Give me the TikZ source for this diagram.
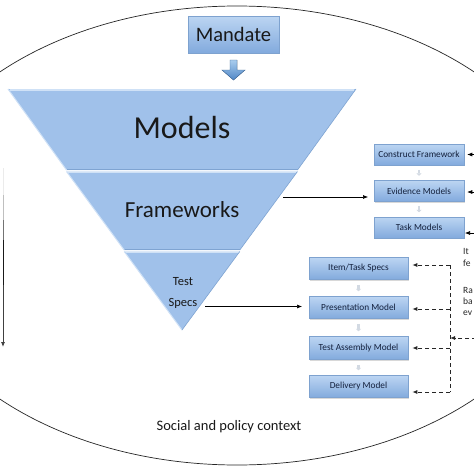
\documentclass[tikz,border=0pt]{standalone}
\usepackage{fontspec}
\setmainfont{Carlito}
\usetikzlibrary{arrows.meta,shadows}
\definecolor{bandfill}{HTML}{A0C1EA}
\definecolor{bandlight}{HTML}{CFE1F6}
\definecolor{banddark}{HTML}{7FA4D2}
\definecolor{boxtop}{HTML}{BCD5F2}
\definecolor{boxbot}{HTML}{82AADD}
\definecolor{boxedge}{HTML}{7EA2CF}
\definecolor{navy}{HTML}{14213D}
\definecolor{arrtop}{HTML}{A9CDEE}
\definecolor{arrbot}{HTML}{4F86C6}
\definecolor{faint}{HTML}{D3DAE3}
\tikzset{
  smallbox/.style={rectangle, inner sep=0pt, top color=boxtop, bottom color=boxbot,
    draw=boxedge, line width=0.5pt, text=navy, font=\fontsize{9.3}{10}\selectfont,
    drop shadow={shadow xshift=1pt, shadow yshift=-1.2pt, fill=gray!60, opacity=0.5}},
  upbox/.style={smallbox, minimum width=90pt, minimum height=21pt},
  lowbox/.style={smallbox, minimum width=99pt, minimum height=22pt},
  band/.style={fill=bandfill},
  bigtext/.style={text=black!90},
  conn/.style={-{Latex[length=5pt,width=4pt]}, line width=0.6pt, black},
  dconn/.style={-{Latex[length=5pt,width=4pt]}, line width=0.9pt, black!85, dash pattern=on 4pt off 3pt},
  dline/.style={line width=0.9pt, black!85, dash pattern=on 4pt off 3pt},
  tiny/.style={-{Triangle[length=2.5pt,width=5pt]}, line width=2.2pt, faint},
  edgetext/.style={anchor=west, inner sep=0pt, font=\fontsize{9.5}{10}\selectfont, text=black!85}
}
\begin{document}
\begin{tikzpicture}[x=1pt,y=-1pt]
\useasboundingbox (0,0) rectangle (474,474);
\fill[white] (0,0) rectangle (474,474);
% context ellipse
\draw[line width=0.7pt, black!85] (237,235.5) ellipse [x radius=338, y radius=229.5];
% inverted triangle bands
\fill[band] (8,89) -- (356,89) -- (297.5,170) -- (66.5,170) -- cycle;
\fill[band] (66.5,171.5) -- (297.5,171.5) -- (239.8,250) -- (124.2,250) -- cycle;
\fill[band] (124.2,251.5) -- (239.8,251.5) -- (182,330) -- cycle;
\draw[bandlight, line width=1.5pt] (10,90) -- (354,90);
\draw[bandlight, line width=1.5pt] (68,172.5) -- (296,172.5);
\draw[bandlight, line width=1.5pt] (125.5,252.5) -- (238.5,252.5);
\draw[banddark, line width=0.8pt] (66.5,169.8) -- (297.5,169.8);
\draw[banddark, line width=0.8pt] (124.2,249.8) -- (239.8,249.8);
\draw[bandlight, line width=1pt] (8,89) -- (66.5,170) (66.5,171.5) -- (124.2,250) (124.2,251.5) -- (182,330);
\draw[banddark, line width=0.6pt] (356,89) -- (297.5,170) (297.5,171.5) -- (239.8,250) (239.8,251.5) -- (182,330);
\node[bigtext, font=\fontsize{32}{34}\selectfont] (models) at (182,128) {Models};
\node[bigtext, font=\fontsize{23}{25}\selectfont] (frameworks) at (182,210) {Frameworks};
\node[bigtext, font=\fontsize{12.5}{14}\selectfont, inner sep=0pt] (test) at (183,282) {Test};
\node[bigtext, font=\fontsize{12.5}{14}\selectfont, inner sep=0pt] (specs) at (183,303) {Specs};
% mandate
\node[smallbox, minimum width=91pt, minimum height=37pt, font=\fontsize{20.5}{22}\selectfont, text=black!90] (mandate) at (233.5,34.5) {Mandate};
\fill[top color=arrtop, bottom color=arrbot, draw=arrbot!80!black, line width=0.4pt]
  (230,60) -- (237,60) -- (237,70) -- (245,70) -- (233.5,80) -- (222,70) -- (230,70) -- cycle;
% upper boxes
\node[upbox] (cf) at (419,154.5) {Construct Framework};
\node[upbox] (em) at (419,191) {Evidence Models};
\node[upbox] (tm) at (419,227.5) {Task Models};
% lower boxes
\node[lowbox] (its) at (358.5,268.5) {Item/Task Specs};
\node[lowbox] (pm) at (358.5,307.5) {Presentation Model};
\node[lowbox, minimum height=23pt] (tam) at (358.5,348) {Test Assembly Model};
\node[lowbox] (dm) at (358.5,386.5) {Delivery Model};
% tiny faint arrows between boxes
\draw[tiny] ([yshift=-4.5pt]cf.south) -- ([yshift=4.5pt]em.north);
\draw[tiny] ([yshift=-4.5pt]em.south) -- ([yshift=4.5pt]tm.north);
\draw[tiny] ([yshift=-5pt]its.south) -- ([yshift=5pt]pm.north);
\draw[tiny] ([yshift=-5pt]pm.south) -- ([yshift=5pt]tam.north);
\draw[tiny] ([yshift=-5pt]tam.south) -- ([yshift=5pt]dm.north);
% connectors from triangle
\coordinate (fwout) at (283,197);
\coordinate (fwin) at (368,197);
\draw[conn] (fwout) -- (fwin);
\coordinate (spout) at (205,306.5);
\coordinate (spin) at (302,306.5);
\draw[conn] (spout) -- (spin);
% incoming from right edge (top boxes)
\coordinate (r1) at (476,154.5);
\coordinate (r2) at (476,192);
\coordinate (r3) at (476,233);
\coordinate (t3) at (465,233);
\draw[conn] (r1) -- ([xshift=3pt]cf.east);
\draw[conn] (r2) -- ([xshift=3pt]em.east |- r2);
\draw[conn] (r3) -- (t3);
% dashed feedback
\coordinate (v1) at (450,265);
\coordinate (v2) at (450,309);
\coordinate (v3) at (450,348);
\coordinate (v4) at (450,392);
\coordinate (vin) at (450,338);
\coordinate (rin) at (476,338);
\draw[dline] (v1) -- (v4);
\draw[dconn] (v1) -- ([xshift=4pt]its.east |- v1);
\draw[dconn] (v2) -- ([xshift=4pt]pm.east |- v2);
\draw[dconn] (v3) -- ([xshift=4pt]tam.east |- v3);
\draw[dconn] (v4) -- ([xshift=4pt]dm.east |- v4);
\draw[dconn] (rin) -- (vin);
% cut-off texts at right edge
\node[edgetext] (e1) at (463,251) {It};
\node[edgetext] (e2) at (463,263) {fe};
\node[edgetext] (e3) at (463,290) {Ra};
\node[edgetext] (e4) at (463,301.5) {ba};
\node[edgetext] (e5) at (463,313) {ev};
% left fading arrow
\coordinate (l0) at (3,168);
\coordinate (l1) at (3,195);
\coordinate (l2) at (3,220);
\coordinate (l3) at (3,240);
\coordinate (l4) at (3,285);
\coordinate (l5) at (3,347);
\draw[line width=0.8pt, black!8] (l0) -- (l1);
\draw[line width=0.8pt, black!25] (l1) -- (l2);
\draw[line width=0.8pt, black!55] (l2) -- (l3);
\draw[line width=0.8pt, black!90] (l3) -- (l4);
\draw[conn, black!75, line width=0.8pt] (l4) -- (l5);
% context label
\node[font=\fontsize{14.5}{16}\selectfont, text=black!90] (ctx) at (229,427) {Social and policy context};
\end{tikzpicture}
\end{document}
